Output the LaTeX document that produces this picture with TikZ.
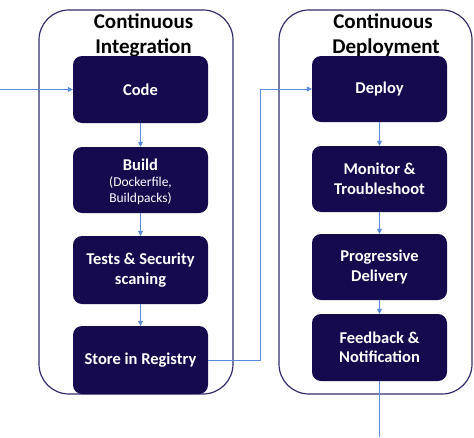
\documentclass[tikz,border=0pt]{standalone}
\usepackage{fontspec}
\setmainfont{Carlito}
\usetikzlibrary{arrows.meta}
\definecolor{boxfill}{RGB}{22,10,78}
\definecolor{frame}{RGB}{50,46,110}
\definecolor{flow}{RGB}{90,138,220}
\tikzset{
  stage/.style={draw=none, fill=boxfill, rounded corners=9pt, minimum width=135pt,
    minimum height=67pt, text=white, align=center, inner sep=0pt,
    font=\bfseries\fontsize{16.5}{19.5}\selectfont},
  container/.style={draw=frame, line width=1.2pt, rounded corners=30pt, inner sep=0pt},
  heading/.style={anchor=base, font=\bfseries\fontsize{21}{25}\selectfont, text=black, inner sep=0pt},
  flowline/.style={draw=flow, line width=0.8pt},
  flowarrow/.style={flowline, -{Triangle[length=5pt,width=5pt]}},
}
\newcommand{\smallnote}{\mdseries\fontsize{13.5}{16}\selectfont}
\begin{document}
\begin{tikzpicture}[x=1pt,y=-1pt]
\useasboundingbox (0,0) rectangle (474,437);
\fill[white] (0,0) rectangle (474,437);
% containers
\node[container, minimum width=194pt, minimum height=384pt] (ci) at (136,202) {};
\node[container, minimum width=193pt, minimum height=384pt] (cd) at (375.5,202) {};
% titles
\node[heading] (t1) at (143.5,28) {Continuous};
\node[heading] (t2) at (143.5,53) {Integration};
\node[heading] (t3) at (383,28) {Continuous};
\node[heading] (t4) at (386,53) {Deployment};
% CI stages
\node[stage, minimum height=66pt] (build) at (140.5,180) {};
\node[align=center, text=white, inner sep=0pt, font=\bfseries\fontsize{16.5}{19.5}\selectfont] (buildtext) at (140.5,182) {Build\\[-4pt]\smallnote (Dockerfile,\\[-3pt]\smallnote Buildpacks)};
\node[stage] (code) at (140.5,89.5) {Code};
\node[stage, minimum height=68pt] (tests) at (140.5,270) {Tests \& Security\\scaning};
\node[stage, minimum height=68pt] (store) at (140.5,360) {Store in Registry};
% CD stages
\node[stage, minimum height=66pt] (deploy) at (379.5,89) {Deploy};
\node[stage, minimum height=66pt] (monitor) at (379.5,179) {Monitor \&\\Troubleshoot};
\node[stage, minimum height=66pt] (prog) at (379.5,267) {Progressive\\Delivery};
\node[stage, minimum height=67pt] (feed) at (379.5,347.5) {Feedback \&\\Notification};
% connectors
\coordinate (entry) at (-3,437);
\coordinate (exit) at (379.5,437);
\draw[flowarrow] (entry) |- (code.west);
\draw[flowarrow] (code) -- (build);
\draw[flowarrow] (build) -- (tests);
\draw[flowarrow] (tests) -- (store);
\draw[flowarrow] (store.east) -- ++(52,0) |- (deploy.west);
\draw[flowarrow] (deploy) -- (monitor);
\draw[flowarrow] (monitor) -- (prog);
\draw[flowarrow] (prog) -- (feed);
\draw[flowline] (feed.south) -- (exit);
\end{tikzpicture}
\end{document}
